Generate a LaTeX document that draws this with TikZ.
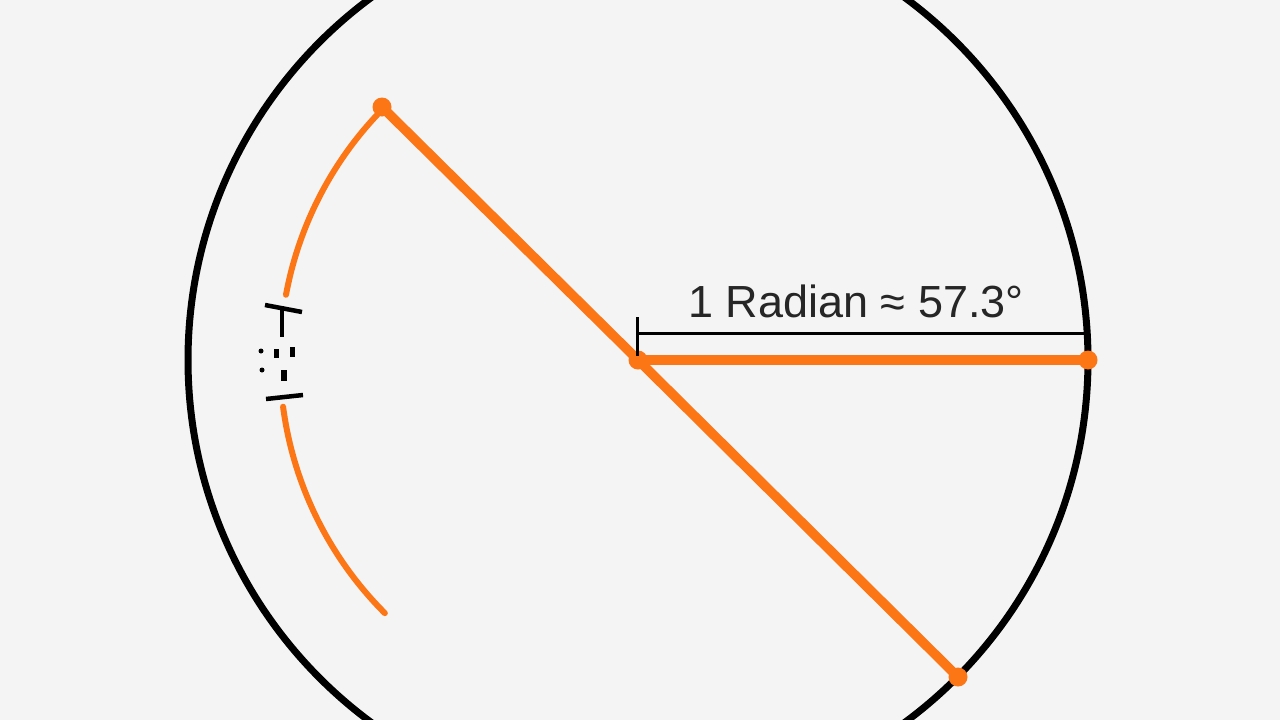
\documentclass[tikz,border=0pt]{standalone}
\usepackage{fontspec}
\setmainfont{Liberation Sans}
\usetikzlibrary{calc}
\definecolor{bg}{RGB}{244,244,244}
\definecolor{org}{RGB}{252,118,22}
\tikzset{
  rim/.style={draw=black,line width=7pt},
  radline/.style={draw=org,line width=9.5pt},
  arcline/.style={draw=org,line width=6pt,line cap=round},
  dimline/.style={draw=black,line width=3pt},
  pt/.style={circle,fill=org,inner sep=0pt,minimum size=19pt},
  lbl/.style={font=\fontsize{45}{50}\selectfont,text=black!85,inner sep=0pt}
}
\begin{document}
\begin{tikzpicture}[x=1pt,y=-1pt]
\useasboundingbox (0,0) rectangle (1280,720);
\fill[bg] (0,0) rectangle (1280,720);
\clip (0,0) rectangle (1280,720);
\coordinate (O) at (638,360);
\draw[rim] (O) circle[radius=450];
\draw[arcline] ($(O)+(-135.3:358)$) arc[start angle=-135.3,end angle=-169.5,radius=358];
\draw[arcline] ($(O)+(-187.5:358)$) arc[start angle=-187.5,end angle=-225,radius=358];
\node[pt] (A) at (382,107) {};
\node[pt] (C) at (O) {};
\node[pt] (B) at (958,677) {};
\node[pt] (R) at (1088,360) {};
\draw[radline] (A.center) -- (C.center) -- (B.center);
\draw[radline] (C.center) -- (R.center);
\coordinate (d1) at (637,333);
\coordinate (d2) at (1084,333);
\draw[dimline] (d1) -- (d2);
\draw[dimline] (637,317) -- (637,356);
\node[lbl] (T) at (856,301) {1 Radian ≈ 57.3°};
\draw[black,line width=4.5pt] (265,305) -- (302,312);
\draw[black,line width=4.5pt] (282,306) -- (282,337);
\draw[black,line width=4.5pt] (266,399) -- (303,395);
\fill[black] (261,351) circle (2.5pt);
\fill[black] (262,370) circle (2.5pt);
\fill[black] (274,349) rectangle (279,358);
\fill[black] (290,347) rectangle (295,357);
\fill[black] (281,370) rectangle (287,381);
\end{tikzpicture}
\end{document}
